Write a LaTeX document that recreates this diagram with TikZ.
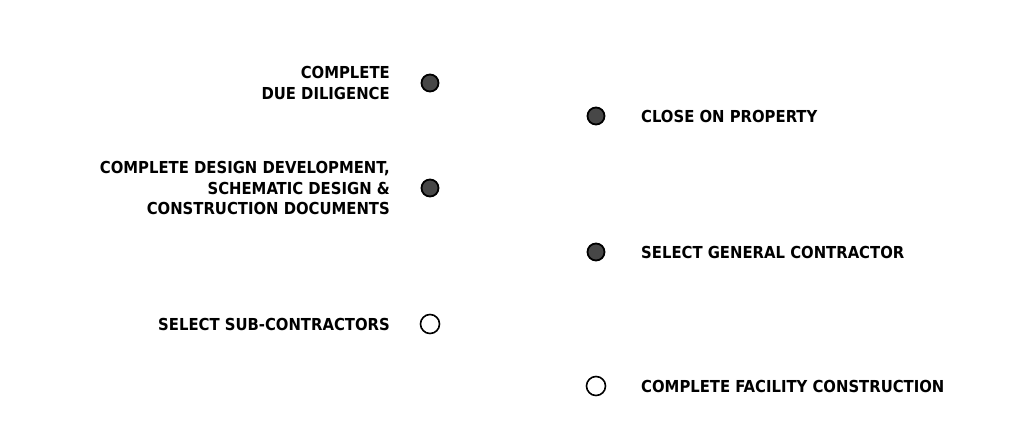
\documentclass[tikz,border=0pt]{standalone}
\usepackage{fontspec}
\setmainfont{DejaVu Sans Condensed}[BoldFont={DejaVu Sans Condensed Bold}]
\begin{document}
\begin{tikzpicture}[x=1pt,y=-1pt,
 lbl/.style={font=\bfseries\fontsize{16.5}{20.5}\selectfont,inner sep=0pt},
 L/.style={lbl,anchor=east,align=right},
 R/.style={lbl,anchor=west,align=left},
 done/.style={circle,draw=black,line width=1.8pt,fill=black!72,minimum size=17pt,inner sep=0pt},
 todo/.style={circle,draw=black,line width=1.6pt,fill=white,minimum size=19pt,inner sep=0pt}]
\useasboundingbox (0,0) rectangle (1024,425);
\node[done] (c1) at (430,83) {};
\node[done] (c2) at (430,188) {};
\node[todo] (c3) at (430,324) {};
\node[done] (c4) at (596,116) {};
\node[done] (c5) at (596,252) {};
\node[todo] (c6) at (596,386) {};
\node[L] (t1) at (390,83) {COMPLETE\\DUE DILIGENCE};
\node[L] (t2) at (390,188) {COMPLETE DESIGN DEVELOPMENT,\\SCHEMATIC DESIGN \&\\CONSTRUCTION DOCUMENTS};
\node[L] (t3) at (390,324) {SELECT SUB-CONTRACTORS};
\node[R] (t4) at (641,116) {CLOSE ON PROPERTY};
\node[R] (t5) at (641,252) {SELECT GENERAL CONTRACTOR};
\node[R] (t6) at (641,386) {COMPLETE FACILITY CONSTRUCTION};
\end{tikzpicture}
\end{document}
